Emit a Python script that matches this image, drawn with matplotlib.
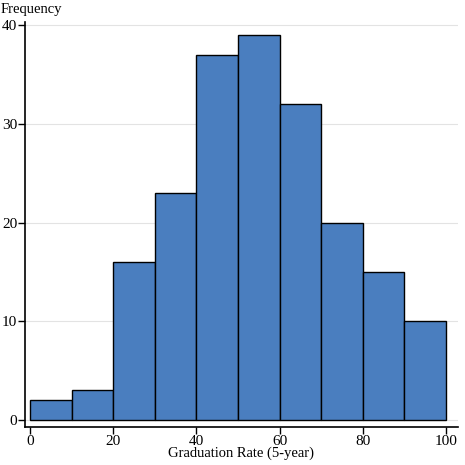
import matplotlib

matplotlib.use("Agg")

import matplotlib.pyplot as plt
import numpy as np

bin_edges = [0, 10, 20, 30, 40, 50, 60, 70, 80, 90, 100]
counts = [2, 3, 16, 23, 37, 39, 32, 20, 15, 10]
x_ticks = [0, 20, 40, 60, 80, 100]
y_ticks = [0, 10, 20, 30, 40]

plt.rcParams["font.family"] = ["Liberation Serif", "DejaVu Serif"]
plt.rcParams["font.size"] = 10.5

fig = plt.figure(figsize=(4.65, 4.65), dpi=100)
ax = fig.add_axes([25 / 465, 38 / 465, 433 / 465, 405 / 465])

left = np.array(bin_edges[:-1])
widths = np.diff(bin_edges)
ax.bar(left, counts, width=widths, align="edge", color="#4a7ebf",
       edgecolor="black", linewidth=1.0, zorder=3)

ax.set_xlim(-1.2, 102.9)
ax.set_ylim(-0.7, 40.3)
ax.set_xticks(x_ticks)
ax.set_yticks(y_ticks)
ax.yaxis.grid(True, color="#e3e3e3", linewidth=0.8, zorder=0)

for side in ["top", "right"]:
    ax.spines[side].set_visible(False)
for side in ["left", "bottom"]:
    ax.spines[side].set_linewidth(1.2)

ax.tick_params(axis="both", direction="out", length=5, width=1.0, pad=0.5,
               labelsize=11)
ax.set_xlabel("Graduation Rate (5-year)", fontsize=10.5, labelpad=-1)
fig.text(1 / 465, 1 - 9 / 465, "Frequency", fontsize=10.5, va="center", ha="left")

fig.savefig("out.png")
